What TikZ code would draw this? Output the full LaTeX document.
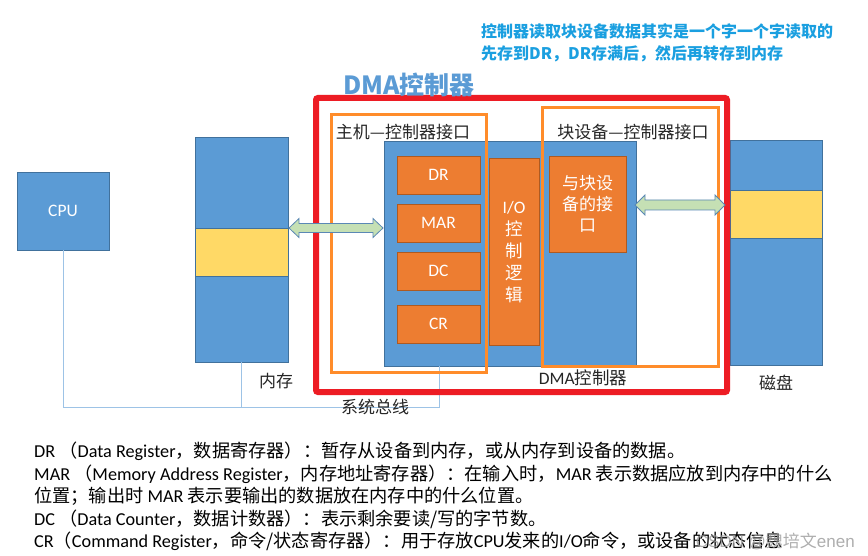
\documentclass[tikz,border=0pt]{standalone}
\usepackage{fontspec}
\setmainfont{Carlito}
\newfontfamily\cjk{Noto Sans CJK SC}
\newfontfamily\wmfont{Liberation Sans}
\newcommand\zh[1]{{\cjk #1}}
\definecolor{boxblue}{HTML}{5B9BD5}
\definecolor{boxblueD}{HTML}{41719C}
\definecolor{boxorange}{HTML}{ED7D31}
\definecolor{boxorangeD}{HTML}{AE5A21}
\definecolor{band}{HTML}{FFD966}
\definecolor{frameRed}{HTML}{ED1C24}
\definecolor{frameOrange}{HTML}{FF8C2A}
\definecolor{arrowGreen}{HTML}{C5E0B4}
\definecolor{arrowBorder}{HTML}{5A88B5}
\definecolor{busBlue}{HTML}{9DC3E6}
\definecolor{noteBlue}{HTML}{1A9FE0}
\definecolor{titleBlue}{HTML}{5B9BD5}
\definecolor{labelGrey}{HTML}{262626}
\definecolor{wmGrey}{HTML}{9A9A9A}
\tikzset{
  bluebox/.style={draw=boxblueD, fill=boxblue, line width=0.8pt, inner sep=0pt, outer sep=0pt, text=white},
  regbox/.style={draw=boxorangeD, fill=boxorange, line width=0.8pt, inner sep=0pt, outer sep=0pt, text=white, font=\fontsize{17.5}{20}\selectfont},
  bandbox/.style={draw=boxblueD, fill=band, line width=0.6pt, inner sep=0pt, outer sep=0pt},
  darrow/.style={draw=arrowBorder, fill=arrowGreen, line width=0.8pt, line join=miter},
  redframe/.style={draw=frameRed, line width=6pt, rounded corners=2pt},
  orframe/.style={draw=frameOrange, line width=3pt},
  lbl/.style={text=labelGrey, font=\cjk\fontsize{17}{20}\selectfont, inner sep=0pt},
  notetext/.style={anchor=west, inner sep=0pt, text=noteBlue, font=\cjk\bfseries\fontsize{16}{19}\selectfont},
  expl/.style={anchor=west, inner sep=0pt, text=black, font=\fontsize{18.2}{21}\selectfont},
  bus/.style={draw=busBlue, line width=1pt}
}
\begin{document}
\begin{tikzpicture}[x=1pt,y=-1pt]
\useasboundingbox (0,0) rectangle (868,556);
\fill[white] (0,0) rectangle (868,556);

\node[bluebox, minimum width=92, minimum height=78, font=\fontsize{17.5}{20}\selectfont] (cpu) at (63,211) {CPU};
\node[bluebox, minimum width=93, minimum height=225] (mem) at (241.5,249.5) {};
\node[bandbox, minimum width=93, minimum height=48] (memband) at (241.5,252) {};
\node[bluebox, minimum width=92, minimum height=225] (disk) at (776,252.5) {};
\node[bandbox, minimum width=92, minimum height=48] (diskband) at (776,214) {};
\node[bluebox, minimum width=252, minimum height=225] (dma) at (510,253.5) {};

% system bus
\coordinate (busR) at (439,407);
\draw[bus] (cpu.south) |- (busR) -- (busR |- dma.south);
\draw[bus] (mem.south) -- (mem.south |- busR);

% registers
\node[regbox, minimum width=83, minimum height=38] (dr) at (438.5,175) {DR};
\node[regbox, minimum width=83, minimum height=38] (mar) at (438.5,223) {MAR};
\node[regbox, minimum width=83, minimum height=38] (dc) at (438.5,271) {DC};
\node[regbox, minimum width=83, minimum height=38] (cr) at (438.5,324) {CR};
\node[regbox, minimum width=50, minimum height=187, align=center, font=\fontsize{17.5}{22}\selectfont] (io) at (514,252) {I/O\\\zh{控}\\\zh{制}\\\zh{逻}\\\zh{辑}};
\node[regbox, minimum width=77, minimum height=96, align=center, font=\cjk\fontsize{17}{21}\selectfont] (iface) at (587.5,204) {与块设\\备的接\\口};

% frames
\draw[redframe] (316,98) rectangle (727,392);
\draw[orframe] (331,115) rectangle (486,372);
\draw[orframe] (542,108) rectangle (718,366);

% double arrows
\draw[darrow] (289,228) -- (299,218.5) -- (299,223.5) -- (373,223.5) -- (373,218.5) -- (383,228)
   -- (373,237.5) -- (373,232.5) -- (299,232.5) -- (299,237.5) -- cycle;
\draw[darrow] (635,205) -- (645,195) -- (645,200) -- (715,200) -- (715,195) -- (725,205)
   -- (715,215) -- (715,210) -- (645,210) -- (645,215) -- cycle;

% labels
\node[lbl] (hostif) at (403,132) {主机—控制器接口};
\node[lbl] (devif) at (633,132) {块设备—控制器接口};
\node[lbl] (memlbl) at (276,381) {内存};
\node[lbl] (disklbl) at (776,383) {磁盘};
\node[lbl] (buslbl) at (375,407) {系统总线};
\node[lbl, font=\fontsize{17.5}{20}\selectfont] (dmalbl) at (583,378) {DMA\zh{控制器}};
\node[anchor=west, inner sep=0pt, text=titleBlue, font=\cjk\bfseries\fontsize{25}{29}\selectfont] (title) at (343,85) {DMA控制器};

% note
\node[notetext] (note1) at (481,31) {控制器读取块设备数据其实是一个字一个字读取的};
\node[notetext] (note2) at (481,54) {先存到DR，DR存满后，然后再转存到内存};

% explanation
\node[expl] (l1) at (34,451) {DR \zh{（}Data Register\zh{，数据寄存器）：暂存从设备到内存，或从内存到设备的数据。}};
\node[expl] (l2) at (34,474) {MAR \zh{（}Memory Address Register\zh{，内存地址寄存器）：在输入时，}MAR \zh{表示数据应放到内存中的什么}};
\node[expl] (l3) at (34,496) {\zh{位置；输出时} MAR \zh{表示要输出的数据放在内存中的什么位置。}};
\node[expl] (l4) at (34,519) {DC \zh{（}Data Counter\zh{，数据计数器）：表示剩余要读/写的字节数。}};
\node[expl] (l5) at (34,541) {CR\zh{（}Command Register\zh{，命令/状态寄存器）：用于存放}CPU\zh{发来的}I/O\zh{命令，或设备的状态信息}};
\node[anchor=east, inner sep=0pt, text=wmGrey, opacity=0.8, font=\wmfont\fontsize{17}{20}\selectfont] (wm) at (855,541) {CSDN @\zh{魏培文}enen};
\end{tikzpicture}
\end{document}
